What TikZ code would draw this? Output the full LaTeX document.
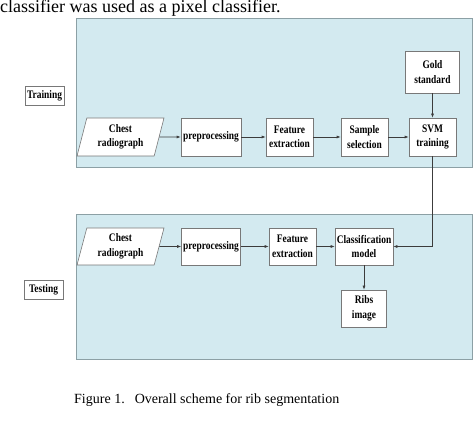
\documentclass[tikz,border=0pt]{standalone}
\usepackage{fontspec}
\setmainfont{Liberation Serif}
\newfontfamily\boxfont[FakeStretch=0.82]{Liberation Serif}
\usetikzlibrary{shapes.geometric,arrows.meta,positioning}

\definecolor{panelblue}{RGB}{211,234,240}
\definecolor{panelline}{RGB}{140,160,165}
\definecolor{boxline}{RGB}{120,120,120}
\definecolor{arrowline}{RGB}{60,60,60}

\tikzset{
	panel/.style={fill=panelblue,draw=panelline,line width=0.8pt},
	stepbox/.style={draw=boxline,fill=white,line width=0.6pt,minimum height=38pt,inner sep=1pt,align=center,font=\boxfont\bfseries\fontsize{11.5}{14.5}\selectfont},
	inbox/.style={stepbox,trapezium,trapezium left angle=70,trapezium right angle=110,trapezium stretches body,minimum width=87pt},
	tag/.style={draw=boxline,fill=white,line width=0.6pt,minimum width=39pt,minimum height=19pt,inner sep=1pt,font=\boxfont\bfseries\fontsize{11.5}{14}\selectfont},
	flow/.style={draw=arrowline,line width=0.6pt,-{Latex[length=4pt,width=3pt]}}
}

\begin{document}
\begin{tikzpicture}[x=1pt,y=-1pt]
	\useasboundingbox (0,0) rectangle (474,430);
	\node[anchor=base west,inner sep=0pt,font=\fontsize{18}{20}\selectfont] (prev) at (0,13) {classifier was used as a pixel classifier.};

	% panels
	\draw[panel] (76,18) rectangle (472,167);
	\draw[panel] (76,214) rectangle (472,359);
	\node[tag] (train) at (44.5,95.5) {Training};
	\node[tag] (test) at (43.5,289.5) {Testing};

	% training row
	\node[inbox] (chestA) at (120.5,137) {Chest\\radiograph};
	\node[stepbox,minimum width=60pt] (preA) at (211,137) {preprocessing};
	\node[stepbox,minimum width=47pt] (featA) at (289.5,137) {Feature\\extraction};
	\node[stepbox,minimum width=47pt] (sampA) at (364.5,137) {Sample\\selection};
	\node[stepbox,minimum width=47pt] (svm) at (432.5,137) {SVM\\training};
	\node[stepbox,minimum width=54pt,minimum height=42pt] (gold) at (432.5,72) {Gold\\standard};

	% testing row
	\node[inbox,minimum height=37pt] (chestB) at (120.5,246.5) {Chest\\radiograph};
	\node[stepbox,minimum width=59pt,minimum height=37pt] (preB) at (211,246.5) {preprocessing};
	\node[stepbox,minimum width=47pt,minimum height=37pt] (featB) at (292.5,246.5) {Feature\\extraction};
	\node[stepbox,minimum width=58pt,minimum height=37pt] (cls) at (364,246.5) {Classification\\model};
	\node[stepbox,minimum width=45pt,minimum height=37pt] (ribs) at (364,308.5) {Ribs\\image};

	\draw[flow] (chestA) -- (preA);
	\draw[flow] (preA) -- (featA);
	\draw[flow] (featA) -- (sampA);
	\draw[flow] (sampA) -- (svm);
	\draw[flow] (gold) -- (svm);
	\draw[flow] (chestB) -- (preB);
	\draw[flow] (preB) -- (featB);
	\draw[flow] (featB) -- (cls);
	\draw[flow] (cls) -- (ribs);
	\draw[flow] (svm.south) |- (cls.east);

	\node[anchor=base west,inner sep=0pt,font=\fontsize{14}{16}\selectfont] (cap) at (74,403) {Figure 1.\hspace{10pt}Overall scheme for rib segmentation};
\end{tikzpicture}
\end{document}
